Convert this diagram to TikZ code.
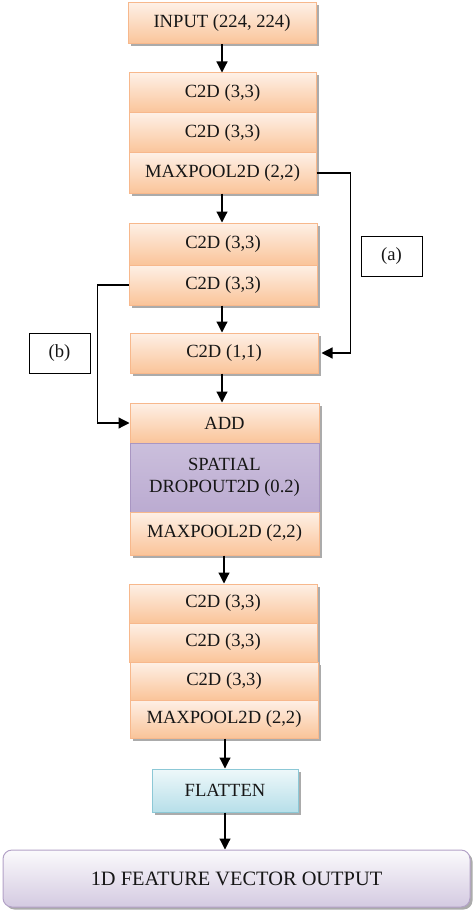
\documentclass[tikz,border=0pt]{standalone}
\usepackage{fontspec}
\setmainfont{Liberation Serif}
\usetikzlibrary{arrows.meta,shadows}
\definecolor{oborder}{HTML}{F7B88C}
\definecolor{otop}{HTML}{FEF0E6}
\definecolor{obot}{HTML}{FAC499}
\definecolor{pborder}{HTML}{A996C2}
\definecolor{ptop}{HTML}{CBBFDC}
\definecolor{pmid}{HTML}{E3DCEC}
\definecolor{pbot}{HTML}{BBABD1}
\definecolor{cborder}{HTML}{8CC8D6}
\definecolor{ctop}{HTML}{EEF8FA}
\definecolor{cbot}{HTML}{B7DFE9}
\definecolor{uborder}{HTML}{B3A2C7}
\definecolor{utop}{HTML}{FBFAFC}
\definecolor{ubot}{HTML}{D4CAE1}
\definecolor{txt}{HTML}{161616}
\tikzset{
  layer/.style={draw, line width=1pt, inner sep=0pt, align=center, text=txt,
    font=\fontsize{18.6}{22}\selectfont,
    drop shadow={shadow xshift=2.5pt, shadow yshift=-2.5pt, fill=black!55, opacity=0.6}},
  obox/.style={layer, draw=oborder, top color=otop, bottom color=obot},
  pbox/.style={layer, draw=pborder, top color=ptop, middle color=pmid, bottom color=pbot},
  cbox/.style={layer, draw=cborder, top color=ctop, bottom color=cbot},
  ubox/.style={layer, draw=uborder, top color=utop, bottom color=ubot, rounded corners=9pt,
    font=\fontsize{20.4}{23}\selectfont},
  lbl/.style={draw=black, line width=0.9pt, fill=white, inner sep=0pt, text=txt,
    font=\fontsize{18.6}{22}\selectfont},
  arr/.style={line width=1.2pt, -{Triangle[length=11pt,width=11pt]}}
}
\newcommand{\bx}[7]{% style, name, x1, y1, x2, y2, text
  \node[#1, minimum width={(#5-#3)*1pt}, minimum height={(#6-#4)*1pt}] (#2) at ({(#3+#5)/2},{(#4+#6)/2}) {#7};}
\begin{document}
\begin{tikzpicture}[x=1pt,y=-1pt]
\useasboundingbox (0,0) rectangle (474,912);
\bx{obox}{in}{128}{3}{316}{44}{INPUT (224, 224)}
\bx{obox}{c1}{129}{73}{316}{113}{C2D (3,3)}
\bx{obox}{c2}{129}{113}{316}{153}{C2D (3,3)}
\bx{obox}{mp1}{129}{153}{316}{193}{MAXPOOL2D (2,2)}
\bx{obox}{c3}{129}{223}{317}{265}{C2D (3,3)}
\bx{obox}{c4}{129}{265}{317}{305}{C2D (3,3)}
\bx{obox}{c5}{130}{333}{318}{373}{C2D (1,1)}
\bx{obox}{add}{130}{403}{319}{443}{ADD}
\bx{pbox}{sp}{130}{443}{319}{512}{SPATIAL\\DROPOUT2D (0.2)}
\bx{obox}{mp2}{130}{512}{319}{555}{MAXPOOL2D (2,2)}
\bx{obox}{c6}{129}{584}{317}{623}{C2D (3,3)}
\bx{obox}{c7}{129}{623}{317}{662}{C2D (3,3)}
\bx{obox}{c8}{130}{662}{318}{700}{C2D (3,3)}
\bx{obox}{mp3}{130}{700}{318}{738}{MAXPOOL2D (2,2)}
\bx{cbox}{fl}{152}{769}{298}{812}{FLATTEN}
\bx{ubox}{out}{3}{850}{470}{907}{1D FEATURE VECTOR OUTPUT}
\bx{lbl}{la}{361}{236}{422}{276}{(a)}
\bx{lbl}{lb}{29}{333}{90}{373}{(b)}
\draw[arr] (in.south -| 222,0) -- (c1.north -| 222,0);
\draw[arr] (mp1.south -| 222,0) -- (c3.north -| 222,0);
\draw[arr] (c4.south -| 222,0) -- (c5.north -| 222,0);
\draw[arr] (c5.south -| 222,0) -- (add.north -| 222,0);
\draw[arr] (mp2.south -| 224,0) -- (c6.north -| 224,0);
\draw[arr] (mp3.south -| 225,0) -- (fl.north -| 225,0);
\draw[arr] (fl.south -| 225,0) -- (out.north -| 225,0);
\draw[arr] (mp1.east) -- ++(34,0) |- ([xshift=3pt]c5.east);
\draw[arr] (c4.west) -- ++(-31,0) |- (add.west);
\end{tikzpicture}
\end{document}
